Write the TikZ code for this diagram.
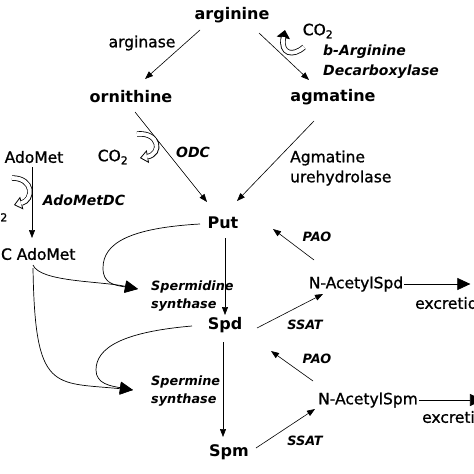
\documentclass[tikz,border=0pt]{standalone}
\usepackage{fontspec}
\setmainfont{DejaVu Sans}
\newfontfamily\medfont{DejaVu Sans}[FakeBold=1]
\usetikzlibrary{arrows.meta,calc}
\begin{document}
\begin{tikzpicture}[x=1pt,y=-1pt,
  mol/.style={font=\fontsize{16}{18}\selectfont\bfseries, inner sep=1pt},
  txt/.style={font=\fontsize{15.5}{20}\medfont, inner sep=1pt, align=left},
  enz/.style={font=\fontsize{14}{20}\selectfont\bfseries\itshape, inner sep=1pt, align=left},
  syn/.style={font=\fontsize{12.8}{18}\selectfont\bfseries\itshape, inner sep=1pt, align=left},
  arr/.style={-{Triangle[length=8pt,width=6pt]}, line width=0.6pt},
  bigarr/.style={-{Triangle[length=13pt,width=12pt]}, line width=0.7pt},
  co2out/.style={line width=5.4pt, -{Triangle[open,line width=0.8pt,length=8pt,width=13pt]}},
  co2blk/.style={line width=5.4pt, -{Triangle[length=8pt,width=13pt]}},
  co2in/.style={white, line width=3.8pt, shorten >=7.2pt}
]
\useasboundingbox (0,0) rectangle (474,474);
\clip (0,0) rectangle (474,474);

% compounds
\node[mol] (arg) at (232,15) {arginine};
\node[mol] (orn) at (131,97) {ornithine};
\node[mol] (agm) at (333,97) {agmatine};
\node[mol] (put) at (223,223) {Put};
\node[mol] (spd) at (225,325) {Spd};
\node[mol] (spm) at (229,452) {Spm};
\node[txt] (adomet) at (34,157) {AdoMet};
\node[txt, anchor=west] (dcado) at (-10,254) {dC AdoMet};
\node[txt] (nacspd) at (356,284) {N-AcetylSpd};
\node[txt] (nacspm) at (368,400) {N-AcetylSpm};
\node[txt, anchor=west] (exc1) at (414,303) {excretion};
\node[txt, anchor=west] (exc2) at (421,417) {excretion};

% enzymes and side products
\node[txt] (arginase) at (142,43) {arginase};
\node[txt] (co2a) at (318,31) {CO\textsubscript{2}};
\node[enz, anchor=west] (bargdc) at (322,62) {b-Arginine\\Decarboxylase};
\node[txt, anchor=west] (agmuh) at (289,168) {Agmatine\\urehydrolase};
\node[txt] (co2b) at (113,157) {CO\textsubscript{2}};
\node[enz] (odc) at (193,152) {ODC};
\node[txt, anchor=east] (co2c) at (9,214) {CO\textsubscript{2}};
\node[enz] (adometdc) at (84,200) {AdoMetDC};
\node[syn, anchor=west] (spdsyn) at (150,296) {Spermidine\\synthase};
\node[syn, anchor=west] (spmsyn) at (150,391) {Spermine\\synthase};
\node[syn] (pao1) at (317,237) {PAO};
\node[syn] (ssat1) at (305,325) {SSAT};
\node[syn] (pao2) at (317,359) {PAO};
\node[syn] (ssat2) at (305,441) {SSAT};

% straight arrows
\draw[arr] ($(arg)+(-32,15)$) -- ($(orn)+(14,-18)$);
\draw[arr] ($(arg)+(27,18)$) -- ($(agm)+(-24,-17)$);
\draw[arr] ($(orn)+(4,15)$) -- ($(put)+(-16,-21)$);
\draw[arr] ($(agm)+(-19,24)$) -- ($(put)+(14,-22)$);
\draw[arr] ($(adomet)+(-2,10)$) -- ($(dcado.west)+(42,-16)$);
\draw[arr] ($(put)+(2,15)$) -- ($(spd)+(0,-10)$);
\draw[arr] ($(spd)+(-2,17)$) -- ($(spm)+(-6,-15)$);
\draw[arr] ($(nacspd)+(-42,-24)$) -- ($(put)+(50,6)$);
\draw[arr] ($(spd)+(32,3)$) -- ($(nacspd)+(-33,10)$);
\draw[arr] ($(nacspm)+(-55,-19)$) -- ($(spd)+(46,26)$);
\draw[arr] ($(spm)+(27,-4)$) -- ($(nacspm)+(-53,9)$);
\draw[bigarr] (nacspd.east) -- ++(66,0);
\draw[bigarr] (nacspm.east) -- ++(64,0);

% synthase curves
\draw[bigarr] ($(dcado.west)+(43,11)$) .. controls +(7,17) and +(-38,-8) .. ($(spdsyn.west)+(-12,-7)$);
\draw[bigarr] ($(put)+(-23,1)$) .. controls +(-70,4) and +(0,-25) .. (103,268) .. controls +(0,15) and +(-25,-4) .. ($(spdsyn.west)+(-12,-7)$);
\draw[bigarr] ($(dcado.west)+(43,14)$) .. controls +(2,125) and +(-80,-8) .. ($(spmsyn.west)+(-17,-1)$);
\draw[bigarr] ($(spd)+(-33,1)$) .. controls +(-70,6) and +(0,-22) .. (96,370) .. controls +(0,14) and +(-22,-4) .. ($(spmsyn.west)+(-17,-1)$);

% CO2 release
\draw[co2blk] (304,47) .. controls (293,57) and (280,54) .. (285,30);
\draw[co2in] (304,47) .. controls (293,57) and (280,54) .. (285,30);
\draw[co2out] (137,134) .. controls (160,132) and (162,154) .. (140,158);
\draw[co2in] (137,134) .. controls (160,132) and (162,154) .. (140,158);
\draw[co2out] (12,178) .. controls (34,178) and (34,200) .. (14,205);
\draw[co2in] (12,178) .. controls (34,178) and (34,200) .. (14,205);
\end{tikzpicture}
\end{document}
